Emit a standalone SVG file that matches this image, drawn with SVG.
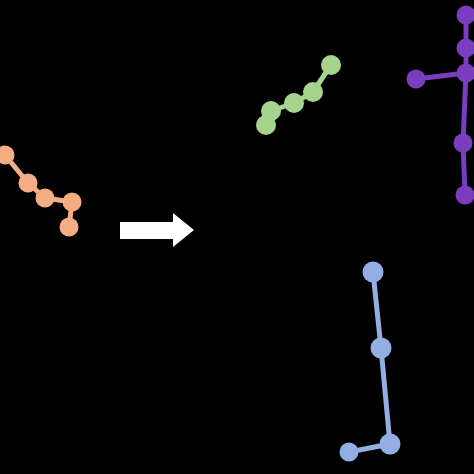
<svg xmlns="http://www.w3.org/2000/svg" width="474" height="474" viewBox="0 0 474 474">
<style>
.o{fill:#F5AD83}.os{stroke:#F5AD83}
.g{fill:#A6D48C}.gs{stroke:#A6D48C}
.p{fill:#7A3DBF}.ps{stroke:#7A3DBF}
.b{fill:#93AEE3}.bs{stroke:#93AEE3}
line{stroke-width:5;stroke-linecap:round}
</style>
<rect width="474" height="474" fill="#000"/>
<g id="connectors">
<line class="os" x1="5" y1="155" x2="28" y2="183"/>
<line class="os" x1="28" y1="183" x2="45" y2="198"/>
<line class="os" x1="45" y1="198" x2="72" y2="202"/>
<line class="os" x1="72" y1="202" x2="69" y2="227"/>
<line class="gs" x1="331" y1="65" x2="313" y2="92"/>
<line class="gs" x1="313" y1="92" x2="294" y2="103"/>
<line class="gs" x1="294" y1="103" x2="271" y2="111"/>
<line class="gs" x1="271" y1="111" x2="266" y2="125"/>
<line class="ps" x1="466" y1="15" x2="466" y2="48"/>
<line class="ps" x1="466" y1="48" x2="466" y2="73"/>
<line class="ps" x1="466" y1="73" x2="416" y2="79"/>
<line class="ps" x1="466" y1="73" x2="463" y2="143"/>
<line class="ps" x1="463" y1="143" x2="465" y2="195"/>
<line class="bs" x1="373" y1="272" x2="381" y2="348"/>
<line class="bs" x1="381" y1="348" x2="390" y2="444"/>
<line class="bs" x1="390" y1="444" x2="349" y2="452"/>
</g>
<g id="orange">
<circle class="o" cx="5" cy="155" r="9.5"/>
<circle class="o" cx="28" cy="183" r="9.5"/>
<circle class="o" cx="45" cy="198" r="9.5"/>
<circle class="o" cx="72" cy="202" r="9.5"/>
<circle class="o" cx="69" cy="227" r="9.5"/>
</g>
<g id="green">
<circle class="g" cx="331" cy="65" r="10"/>
<circle class="g" cx="313" cy="92" r="10"/>
<circle class="g" cx="294" cy="103" r="10"/>
<circle class="g" cx="271" cy="111" r="10"/>
<circle class="g" cx="266" cy="125" r="10"/>
</g>
<g id="purple">
<circle class="p" cx="466" cy="15" r="9.5"/>
<circle class="p" cx="466" cy="48" r="9.5"/>
<circle class="p" cx="466" cy="73" r="9.5"/>
<circle class="p" cx="416" cy="79" r="9.5"/>
<circle class="p" cx="463" cy="143" r="9.5"/>
<circle class="p" cx="465" cy="195" r="9.5"/>
</g>
<g id="blue">
<circle class="b" cx="373" cy="272" r="10.5"/>
<circle class="b" cx="381" cy="348" r="10.5"/>
<circle class="b" cx="390" cy="444" r="10.5"/>
<circle class="b" cx="349" cy="452" r="9.5"/>
</g>
<g id="arrow">
<polygon fill="#fff" points="120,222 173,222 173,213 194,230 173,247 173,239 120,239"/>
</g>
</svg>
